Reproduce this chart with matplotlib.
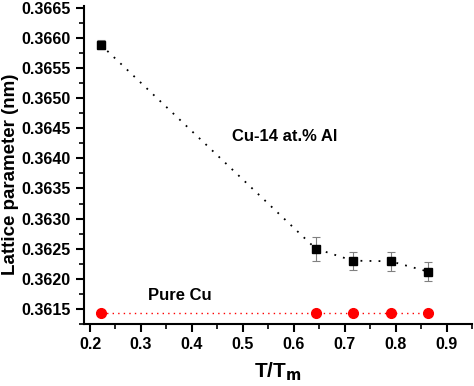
import matplotlib
matplotlib.use('Agg')
import matplotlib.pyplot as plt
from matplotlib.ticker import MultipleLocator, FormatStrFormatter

plt.rcParams['font.family'] = ['Liberation Sans', 'DejaVu Sans']
plt.rcParams['font.weight'] = 'bold'

# Cu-14 at.% Al
t_al = [0.221, 0.643, 0.716, 0.790, 0.863]
a_al = [0.36589, 0.36250, 0.36230, 0.36229, 0.36212]
err_al = [0.00008, 0.00020, 0.00015, 0.00016, 0.00016]

# pure Cu
t_cu = [0.221, 0.643, 0.716, 0.790, 0.863]
a_cu = [0.36143, 0.36143, 0.36143, 0.36143, 0.36143]

fig = plt.figure(figsize=(4.74, 3.86), dpi=100)
ax = fig.add_axes([0.177, 0.161, 0.819, 0.823])

ax.plot(t_cu, a_cu, ls=(0, (1, 3)), color='red', lw=1.0)
ax.plot(t_cu, a_cu, 'o', color='red', ms=7, ls='none')

ax.plot(t_al, a_al, ls=(0, (1, 4)), color='black', lw=1.3)
ax.errorbar(t_al, a_al, yerr=err_al, fmt='s', color='black', ms=5.5,
            ecolor='gray', elinewidth=0.8, capsize=3, capthick=0.8)

ax.text(0.478, 0.36436, 'Cu-14 at.% Al', fontsize=12, fontweight='bold', va='center')
ax.text(0.376, 0.36172, 'Pure Cu', fontsize=12, fontweight='bold', ha='center', va='center')

ax.set_xlim(0.188, 0.95)
ax.set_ylim(0.36125, 0.36653)
ax.xaxis.set_major_locator(MultipleLocator(0.1))
ax.xaxis.set_minor_locator(MultipleLocator(0.05))
ax.yaxis.set_major_locator(MultipleLocator(0.0005))
ax.yaxis.set_minor_locator(MultipleLocator(0.00025))
ax.xaxis.set_major_formatter(FormatStrFormatter('%.1f'))
ax.yaxis.set_major_formatter(FormatStrFormatter('%.4f'))

for s in ['top', 'right']:
    ax.spines[s].set_visible(False)
for s in ['left', 'bottom']:
    ax.spines[s].set_linewidth(1.5)
ax.tick_params(which='major', length=6, width=1.5, labelsize=11.5)
ax.tick_params(which='minor', length=3.5, width=1.2)
for lab in ax.get_xticklabels() + ax.get_yticklabels():
    lab.set_fontweight('bold')

ax.set_xlabel('T/T$_\\mathbf{m}$', fontsize=15, fontweight='bold', labelpad=6)
ax.set_ylabel('Lattice parameter (nm)', fontsize=13.5, fontweight='bold')
ax.yaxis.set_label_coords(-0.168, 0.47)

fig.savefig('out.png', dpi=100)
